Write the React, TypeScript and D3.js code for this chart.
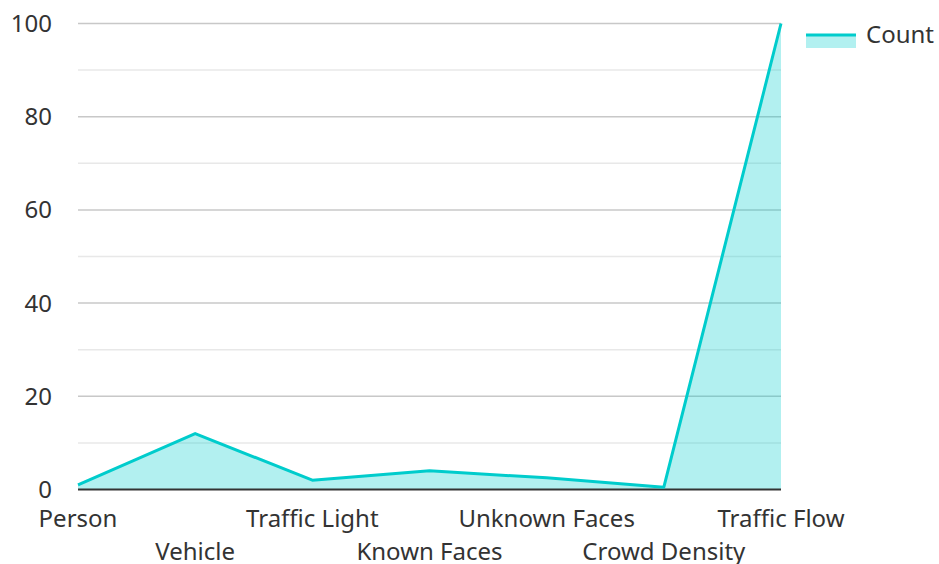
import { useEffect, useRef } from "react";
import * as d3 from "d3";

const categories = [
  "Person",
  "Vehicle",
  "Traffic Light",
  "Known Faces",
  "Unknown Faces",
  "Crowd Density",
  "Traffic Flow",
];
const counts = [1, 12, 2, 4, 2.5, 0.5, 100];
const majorTicks = [0, 20, 40, 60, 80, 100];
const minorTicks = [10, 30, 50, 70, 90];

const width = 939;
const height = 564;

export default function App() {
  const svgRef = useRef<SVGSVGElement>(null);

  useEffect(() => {
    if (!svgRef.current) return;
    const svg = d3.select(svgRef.current);
    svg.selectAll("*").remove();

    const margin = { top: 23.5, right: 158, bottom: 74.5, left: 78 };
    const innerW = width - margin.left - margin.right;
    const innerH = height - margin.top - margin.bottom;
    const font = "'Noto Sans', 'Open Sans', sans-serif";
    const fs = 24;

    const x = d3
      .scalePoint<string>()
      .domain(categories)
      .range([0, innerW]);
    const y = d3.scaleLinear().domain([0, 100]).range([innerH, 0]);

    const g = svg
      .append("g")
      .attr("transform", `translate(${margin.left},${margin.top})`);

    // minor grid
    g.append("g")
      .selectAll("line")
      .data(minorTicks)
      .join("line")
      .attr("x1", 0)
      .attr("x2", innerW)
      .attr("y1", (d) => y(d))
      .attr("y2", (d) => y(d))
      .attr("stroke", "#e8e8e8")
      .attr("stroke-width", 1.5);

    // major grid
    g.append("g")
      .selectAll("line")
      .data(majorTicks.filter((d) => d > 0))
      .join("line")
      .attr("x1", 0)
      .attr("x2", innerW)
      .attr("y1", (d) => y(d))
      .attr("y2", (d) => y(d))
      .attr("stroke", "#c8c8c8")
      .attr("stroke-width", 1.5);

    const pts = categories.map((c, i) => ({ c, v: counts[i] }));

    g.append("path")
      .datum(pts)
      .attr("fill", "#00cccc")
      .attr("fill-opacity", 0.3)
      .attr(
        "d",
        d3
          .area<{ c: string; v: number }>()
          .x((d) => x(d.c)!)
          .y0(y(0))
          .y1((d) => y(d.v)),
      );

    // baseline
    g.append("line")
      .attr("x1", 0)
      .attr("x2", innerW)
      .attr("y1", y(0))
      .attr("y2", y(0))
      .attr("stroke", "#333")
      .attr("stroke-width", 2);

    g.append("path")
      .datum(pts)
      .attr("fill", "none")
      .attr("stroke", "#00cccc")
      .attr("stroke-width", 3)
      .attr("stroke-linejoin", "round")
      .attr(
        "d",
        d3
          .line<{ c: string; v: number }>()
          .x((d) => x(d.c)!)
          .y((d) => y(d.v)),
      );

    // y tick labels
    g.append("g")
      .selectAll("text")
      .data(majorTicks)
      .join("text")
      .attr("x", -26)
      .attr("y", (d) => y(d))
      .attr("dy", "0.35em")
      .attr("text-anchor", "end")
      .attr("font-family", font)
      .attr("font-size", fs)
      .attr("fill", "#333")
      .text((d) => d);

    // x labels, alternating rows
    g.append("g")
      .selectAll("text")
      .data(categories)
      .join("text")
      .attr("x", (d) => x(d)!)
      .attr("y", (d, i) => innerH + (i % 2 === 0 ? 37 : 70))
      .attr("text-anchor", "middle")
      .attr("font-family", font)
      .attr("font-size", fs)
      .attr("fill", "#333")
      .text((d) => d);

    // legend
    const lg = svg.append("g").attr("transform", "translate(806,35)");
    lg.append("rect")
      .attr("x", 0)
      .attr("y", 0)
      .attr("width", 50)
      .attr("height", 13)
      .attr("fill", "#00cccc")
      .attr("fill-opacity", 0.3);
    lg.append("line")
      .attr("x1", 0)
      .attr("x2", 50)
      .attr("y1", 0)
      .attr("y2", 0)
      .attr("stroke", "#00cccc")
      .attr("stroke-width", 3);
    lg.append("text")
      .attr("x", 60)
      .attr("y", 0)
      .attr("dy", "0.35em")
      .attr("font-family", font)
      .attr("font-size", fs)
      .attr("fill", "#333")
      .text("Count");
  }, []);

  return (
    <svg
      ref={svgRef}
      width={width}
      height={height}
      style={{ position: "absolute", left: 0, top: 0 }}
    />
  );
}
